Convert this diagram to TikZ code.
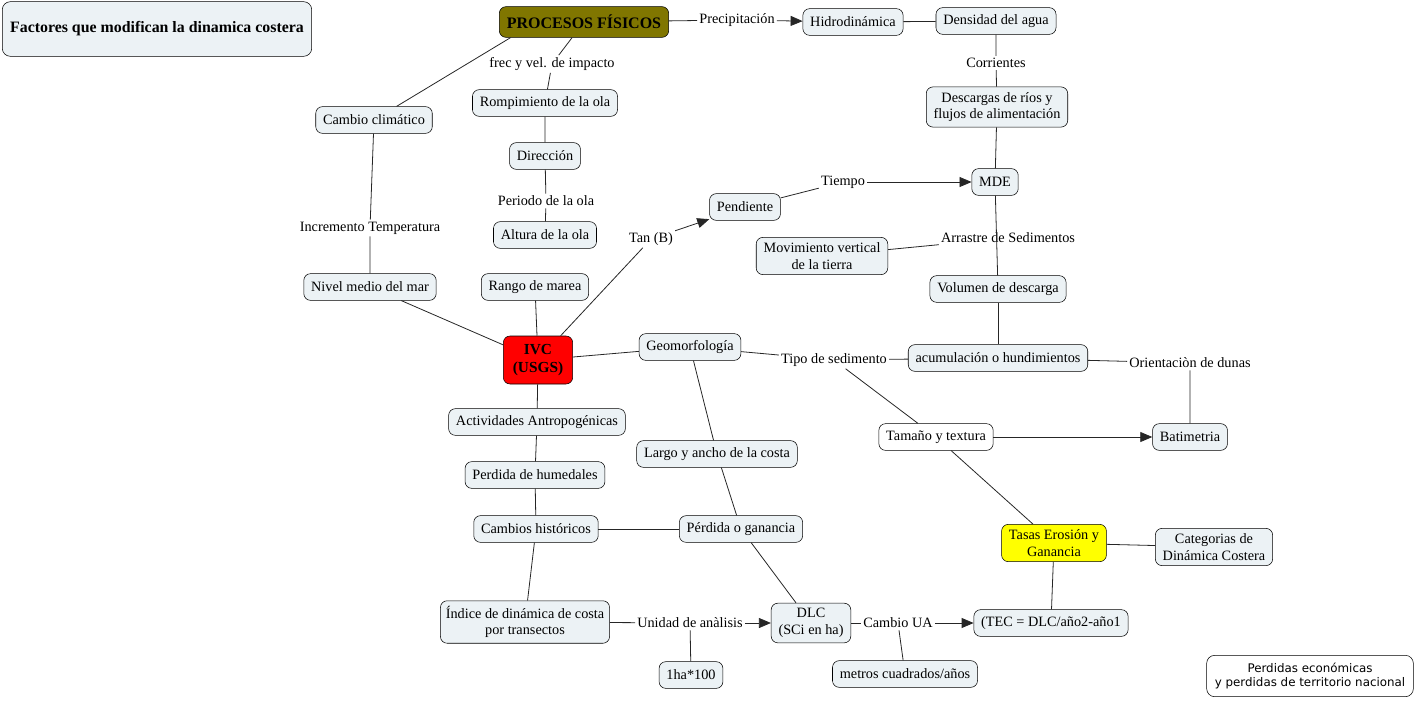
\documentclass[tikz,border=0pt]{standalone}
\usepackage{fontspec}
\setmainfont{Liberation Serif}
\newfontfamily\notefont{DejaVu Sans}
\usepackage{xcolor}
\usetikzlibrary{arrows.meta, positioning}
\definecolor{cmapfill}{RGB}{236, 242, 245}
\definecolor{physolive}{RGB}{128, 118, 0}
\definecolor{ivcred}{RGB}{255, 0, 0}
\definecolor{rateyellow}{RGB}{255, 255, 0}

\begin{document}
\begin{tikzpicture}[
    x=0.75pt, y=-0.75pt,
    font=\fontsize{10.7}{12.4}\selectfont,
    concept/.style={draw, rounded corners=5pt, fill=cmapfill, inner xsep=5.5pt, inner ysep=4pt, minimum height=20pt, align=center},
    phrase/.style={inner sep=1.5pt, align=center},
    titlebox/.style={draw, rounded corners=6pt, fill=cmapfill, minimum width=232pt, minimum height=41pt, font=\fontsize{11.9}{13.5}\selectfont\bfseries},
    footbox/.style={draw, rounded corners=6pt, fill=white, minimum width=155pt, minimum height=31pt, align=center, font=\notefont\fontsize{8.9}{11}\selectfont},
    link/.style={line width=0.6pt, black!85},
    arr/.style={-{Triangle[length=9pt, width=7.5pt]}, line width=0.6pt, black!85},
]
\useasboundingbox (0,0) rectangle (1417,700);

% --- Title ---
\node[titlebox] (title) at (157,29) {Factores que modifican la dinamica costera};

% --- Physical processes (top) ---
\node[concept, fill=physolive, minimum width=127pt, minimum height=23pt, font=\fontsize{12}{14}\selectfont\bfseries] (procesos) at (584,22) {PROCESOS FÍSICOS};
\node[phrase] (precip) at (737,20) {Precipitación};
\node[concept] (hidro) at (853,22) {Hidrodinámica};
\node[concept] (densidad) at (996,21) {Densidad del agua};
\node[phrase] (corrientes) at (996,63) {Corrientes};
\node[concept] (descargas) at (997,107) {Descargas de ríos y\\flujos de alimentación};
\node[concept] (mde) at (995,182) {MDE};
\node[concept] (pendiente) at (745,207) {Pendiente};
\node[phrase] (tiempo) at (843,182) {Tiempo};
\node[phrase] (arrastre) at (1008,238) {Arrastre de Sedimentos};
\node[concept] (movvert) at (822,256) {Movimiento vertical\\de la tierra};
\node[concept] (volumen) at (998,289) {Volumen de descarga};
\node[concept] (acum) at (998,358) {acumulación o hundimientos};
\node[phrase] (dunas) at (1190,363) {Orientaciòn de dunas};
\node[phrase] (tiposed) at (834,360) {Tipo de sedimento};
\node[concept] (batim) at (1190,437) {Batimetria};
\node[concept, fill=white] (tamano) at (936,437) {Tamaño y textura};

% --- Rates (bottom right) ---
\node[concept, fill=rateyellow] (tasas) at (1054,543) {Tasas Erosión y\\Ganancia};
\node[concept] (categ) at (1214,547) {Categorias de\\Dinámica Costera};
\node[concept] (tec) at (1051,623) {(TEC = DLC/año2-año1};
\node[concept] (metros) at (905,674) {metros cuadrados/años};
\node[phrase] (cambioua) at (898,623) {Cambio UA};
\node[concept] (dlc) at (811,623) {DLC\\(SCi en ha)};
\node[concept] (unoha) at (691,675) {1ha*100};
\node[phrase] (unidad) at (690,623) {Unidad de anàlisis};
\node[concept, inner xsep=4pt] (indice) at (525,622) {Índice de dinámica de costa\\por transectos};

% --- IVC branch (centre left) ---
\node[concept] (perdgan) at (741,529) {Pérdida o ganancia};
\node[concept] (cambhist) at (536,529) {Cambios históricos};
\node[concept] (humed) at (535,475) {Perdida de humedales};
\node[concept] (antrop) at (537,422) {Actividades Antropogénicas};
\node[concept] (largo) at (717,454) {Largo y ancho de la costa};
\node[concept] (geomorf) at (690,347) {Geomorfología};
\node[concept, fill=ivcred, minimum width=52pt, minimum height=36pt, font=\fontsize{11.5}{13}\selectfont\bfseries] (ivc) at (538,360) {IVC\\(USGS)};
\node[concept] (marea) at (535,287) {Rango de marea};
\node[concept] (nivel) at (370,287) {Nivel medio del mar};
\node[phrase] (incremento) at (370,228) {Incremento Temperatura};
\node[concept] (climatico) at (374,120) {Cambio climático};
\node[phrase] (frec) at (552,64) {frec y vel. de impacto};
\node[concept] (rompe) at (545,103) {Rompimiento de la ola};
\node[concept] (direccion) at (545,156) {Dirección};
\node[phrase] (periodo) at (546,201) {Periodo de la ola};
\node[concept] (altura) at (545,235) {Altura de la ola};
\node[phrase] (tanb) at (651,239) {Tan (B)};

% --- Note (bottom right) ---
\node[footbox] (perdidas) at (1310,676) {Perdidas económicas\\y perdidas de territorio nacional};

% --- Links: top ---
\draw[link] (procesos) -- (precip);
\draw[arr] (precip) -- (hidro);
\draw[link] (hidro) -- (densidad);
\draw[link] (densidad) -- (corrientes) -- (descargas);
\draw[link] (descargas) -- (mde);
\draw[link] (pendiente) -- (tiempo);
\draw[arr] (tiempo) -- (mde);
\draw[link] (mde) -- (volumen);
\draw[link] (movvert) -- (arrastre);
\draw[link] (volumen) -- (acum);
\draw[link] (geomorf) -- (tiposed);
\draw[link] (tiposed) -- (acum);
\draw[link] (tiposed) -- (tamano);
\draw[link] (acum) -- (dunas) -- (batim);
\draw[arr] (tamano) -- (batim);
\draw[link] (tamano) -- (tasas);

% --- Links: rates ---
\draw[link] (tasas) -- (categ);
\draw[link] (tasas) -- (tec);
\draw[link] (dlc) -- (cambioua);
\draw[arr] (cambioua) -- (tec);
\draw[link] (cambioua) -- (metros);
\draw[link] (indice) -- (unidad);
\draw[arr] (unidad) -- (dlc);
\draw[link] (unidad) -- (unoha);
\draw[link] (perdgan) -- (dlc);

% --- Links: IVC ---
\draw[link] (cambhist) -- (perdgan);
\draw[link] (cambhist) -- (indice);
\draw[link] (antrop) -- (humed) -- (cambhist);
\draw[link] (ivc) -- (antrop);
\draw[link] (ivc) -- (geomorf);
\draw[link] (geomorf) -- (largo) -- (perdgan);
\draw[link] (ivc) -- (nivel);
\draw[link] (ivc) -- (marea);
\draw[link] (ivc) -- (tanb);
\draw[arr] (tanb) -- (pendiente);
\draw[link] (nivel) -- (incremento) -- (climatico);
\draw[link] (climatico) -- (procesos.192);
\draw[link] (procesos) -- (frec) -- (rompe);
\draw[link] (rompe) -- (direccion) -- (periodo) -- (altura);

\end{tikzpicture}
\end{document}
